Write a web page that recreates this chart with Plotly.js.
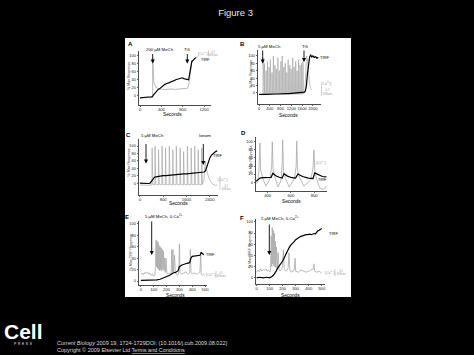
<!DOCTYPE html>
<html><head><meta charset="utf-8">
<script src="https://cdn.plot.ly/plotly-3.0.1.min.js"></script>
<style>html,body{margin:0;padding:0;background:#000;}#chart{width:474px;height:355px;}</style>
</head><body><div id="chart"></div>
<script>
// ---------- Panel A ----------
const aTirfSec = [0,50,100,150,200,230,250,280,310,340,370,400,430,460,490,520,550,580,610,640,670,700,730,760,790,820,850,880,910,930,950,970,990,1010,1030,1050];
const aTirf    = [-5,-4,-4,-3,-3,-2,2,7,12,16,18,22,25,28,30,31,33,35,36,38,40,41,42,44,45,43,42,40,40,55,78,86,88,92,94,95];
const aCaSec   = [0,50,100,150,200,235,238,242,248,256,266,280,300,330,370,420,480,540,600,660,720,780,840,890,910,930,950,970,990,1010,1040,1070,1100];
const aCa      = [-5,-4,-5,-4,-5,-4,95,70,50,38,30,25,21,19,17,16,16,17,17,16,17,18,18,19,25,50,75,84,88,90,93,96,100];
// ---------- Panel B ----------
const bTirfSec = [0,100,200,300,400,500,600,700,800,900,1000,1100,1200,1300,1400,1500,1600,1680,1720,1760,1800,1840,1880,1920,1960,2000,2050,2100,2150,2200];
const bTirf    = [-4,-5,-4,-4,-3,-4,-3,-3,-2,-3,-2,-2,-1,-2,-1,0,1,2,5,20,55,85,98,102,97,100,96,98,94,96];
const bCaSec   = [0,60,120,142,150,168,192,200,218,252,260,278,302,310,328,362,370,388,412,420,438,472,480,498,522,530,548,582,590,608,632,640,658,692,700,718,742,750,768,802,810,828,852,860,878,912,920,938,962,970,988,1022,1030,1048,1072,1080,1098,1132,1140,1158,1182,1190,1208,1242,1250,1268,1292,1300,1318,1352,1360,1378,1402,1410,1428,1462,1470,1488,1512,1520,1538,1572,1580,1598,1622,1630,1648,1700,1740,1760,1790,1820,1850,1880,1920,1960];
const bCa      = [-5,-4,-5,-4,95,-2,-4,80,-2,-4,60,-2,-4,85,-2,-4,70,-2,-4,90,-2,-4,55,-2,-4,100,-2,-4,75,-2,-4,65,-2,-4,95,-2,-4,60,-2,-4,85,-2,-4,100,-2,-4,70,-2,-4,80,-2,-4,55,-2,-4,90,-2,-4,75,-2,-4,65,-2,-4,95,-2,-4,70,-2,-4,85,-2,-4,60,-2,-4,90,-2,-4,75,-2,-4,80,-2,-4,85,-2,0,60,100,95,70,40,22,12,8];
// ---------- Panel C ----------
const cTirfSec = [0,100,200,300,350,400,450,500,550,600,700,800,900,1000,1100,1200,1300,1400,1500,1600,1700,1800,1900,2000,2100,2200,2250,2300,2350,2400,2450,2500,2550,2600,2650];
const cTirf    = [0,-1,0,-1,0,5,12,16,17,18,19,20,20,21,22,22,23,24,25,25,26,27,28,29,30,30,33,45,58,68,75,80,82,85,87];
const cCaSec   = [0,100,200,300,380,412,420,445,512,520,545,632,640,665,752,760,785,872,880,905,1002,1010,1035,1122,1130,1155,1242,1250,1275,1372,1380,1405,1492,1500,1525,1622,1630,1655,1752,1760,1785,1872,1880,1905,1992,2000,2025,2112,2120,2145,2200,2240,2270,2320,2400,2500,2600,2660];
const cCa      = [-5,-6,-5,-6,-5,-5,95,-3,-5,100,-3,-5,90,-3,-5,100,-3,-5,95,-3,-5,100,-3,-5,90,-3,-5,100,-3,-5,95,-3,-5,85,-3,-5,100,-3,-5,95,-3,-5,100,-3,-5,90,-3,-5,95,-3,10,60,45,25,8,-3,-6,-5];
// ---------- Panel D ----------
const dTirfSec = [300,320,334,360,400,430,445,470,500,525,540,570,610,640,660,700,750,790,805,840,870,905];
const dTirf    = [2,6,10,11,11,12,22,16,12,10,21,15,11,10,20,14,10,9,23,17,14,13];
const dCaSec   = [300,315,325,334,340,355,385,420,435,440,447,460,490,515,525,529,536,550,585,630,645,650,657,670,710,770,790,798,806,820,850,880,905];
const dCa      = [-3,0,30,97,30,12,-10,8,40,100,30,15,-12,5,45,105,30,12,-12,8,40,102,30,15,-10,5,35,80,25,8,-16,-18,-10];
// ---------- Panel E ----------
const eTirfSec = [0,25,50,75,100,125,150,175,200,225,250,270,290,300,320,340,360,380,390,400,420,440,460,470,480,490];
const eTirf    = [1,1,2,1,2,2,3,5,8,10,14,15,18,25,28,30,31,32,40,43,44,44,45,50,47,46];
const eCaSec   = [0,10,20,30,40,50,60,70,80,90,100,108,112,118,122,126,130,134,138,142,146,150,154,158,162,167,172,176,180,185,190,196,202,210,220,230,236,240,245,250,255,262,268,275,285,295,300,305,315,330,350,370,380,385,390,400,420,440,460,466,470,478,488,498];
const eCa      = [12,14,11,15,13,16,12,14,10,12,8,10,20,72,25,70,22,68,20,62,18,60,20,58,18,55,20,52,18,40,15,40,15,12,14,12,16,55,15,55,14,45,16,12,10,14,65,15,12,14,16,12,14,55,15,12,14,12,16,50,12,10,12,10];
// ---------- Panel F ----------
const fTirfSec = [0,25,50,75,100,110,120,130,140,150,160,170,180,190,200,210,220,230,240,250,260,270,280,290,300,310,320,330,340,350,360,370,380,390,400,410,420,430,440,450,460,470,480,490,500];
const fTirf    = [0,1,0,1,0,1,3,5,8,12,17,20,23,28,30,35,40,47,52,54,58,60,62,65,68,70,71,73,74,75,76,76,77,77,78,78,77,78,79,78,82,84,85,87,88];
const fCaSec   = [0,10,20,30,40,50,60,70,80,90,100,106,112,116,120,124,128,132,136,140,144,148,152,158,165,172,180,190,198,205,212,222,235,242,248,255,265,280,290,295,300,320,340,360,380,400,420,435,440,446,460,480,500];
const fCa      = [10,14,11,16,12,15,13,16,12,14,10,12,75,20,90,25,85,22,80,20,65,18,55,15,45,14,12,15,20,50,15,12,14,18,45,14,10,12,15,35,12,10,14,12,10,12,14,16,25,12,10,12,8];

// ---------- tick labels ----------
const yTicks = [0,20,40,60,80,100];
const aXTicks = [0,400,800,1200];
const bXTicks = [0,400,800,1200,1600,2000];
const cXTicks = [0,800,1600,2400];
const dXTicks = [400,600,800];
const efXTicks = [0,100,200,300,400,500];

const W = 474, H = 355;
const fx = p => p / W, fy = p => 1 - p / H;
const F = 'Liberation Sans, Arial, sans-serif';
const GREY = '#a8a8a8';

function xa(l, r, range, ticks, anchor) {
  return {domain:[fx(l), fx(r)], range:range, anchor:anchor, tickvals:ticks, tickangle:0, ticklabelstandoff:-1,
    ticks:'outside', ticklen:1.5, tickwidth:0.6, tickcolor:'#000', showline:true, linecolor:'#000', linewidth:0.7,
    showgrid:false, zeroline:false, tickfont:{size:4.2, color:'#222', family:F}, fixedrange:true, automargin:false};
}
function ya(t, b, range, anchor) {
  return {domain:[fy(b), fy(t)], range:range, anchor:anchor, tickvals:yTicks, tickangle:0,
    ticks:'outside', ticklen:1.5, tickwidth:0.6, tickcolor:'#000', showline:true, linecolor:'#000', linewidth:0.7,
    showgrid:false, zeroline:false, tickfont:{size:4, color:'#222', family:F}, fixedrange:true, automargin:false};
}
function grey(x, y, xr, yr, w) { return {x:x, y:y, xaxis:xr, yaxis:yr, type:'scatter', mode:'lines', line:{color:GREY, width:w||0.8}, hoverinfo:'skip'}; }
function black(x, y, xr, yr) { return {x:x, y:y, xaxis:xr, yaxis:yr, type:'scatter', mode:'lines', line:{color:'#000', width:1.2}, hoverinfo:'skip'}; }

const data = [
  grey(aCaSec, aCa, 'x', 'y'), black(aTirfSec, aTirf, 'x', 'y'),
  grey(bCaSec, bCa, 'x2', 'y2', 0.7), black(bTirfSec, bTirf, 'x2', 'y2'),
  grey(cCaSec, cCa, 'x3', 'y3', 0.7), black(cTirfSec, cTirf, 'x3', 'y3'),
  grey(dCaSec, dCa, 'x4', 'y4'), black(dTirfSec, dTirf, 'x4', 'y4'),
  grey(eCaSec, eCa, 'x5', 'y5'), black(eTirfSec, eTirf, 'x5', 'y5'),
  grey(fCaSec, fCa, 'x6', 'y6'), black(fTirfSec, fTirf, 'x6', 'y6')
];

function txt(x, y, t, size, opts) {
  return Object.assign({xref:'paper', yref:'paper', x:fx(x), y:fy(y), text:t, showarrow:false,
    xanchor:'center', yanchor:'middle', font:{size:size, color:'#000', family:F}}, opts || {});
}
function arrow(x, yTail, yTip) {
  return {xref:'paper', yref:'paper', x:fx(x), y:fy(yTip), ax:0, ay:-(yTip - yTail), text:'', showarrow:true,
    arrowhead:2, arrowsize:0.9, arrowwidth:0.9, arrowcolor:'#000'};
}
function ytitle(x, y, t) { return txt(x, y, t, 3.6, {textangle:-90, font:{size:3.6, color:'#333', family:F}}); }
const CA = '[Ca<sup>2+</sup>]<sub>i</sub>';
const RATIO = '0.1<br>Δ Ratio';
const g = (s) => ({size:s, color:'#999', family:F});

const annotations = [
  // panel letters
  txt(130, 44, '<b>A</b>', 6), txt(242, 44, '<b>B</b>', 6), txt(128.5, 135, '<b>C</b>', 6),
  txt(243.5, 133.5, '<b>D</b>', 6), txt(127, 216.5, '<b>E</b>', 6), txt(241.5, 217.5, '<b>F</b>', 6),
  // y titles
  ytitle(129, 76, '% Max Response'), ytitle(251, 74, '% Max Response'), ytitle(128.5, 163, '% Max Response'),
  ytitle(250.5, 160, '% Max Response'), ytitle(130.5, 252, '% Max TIRF Response'), ytitle(250, 250, '% Max TIRF Response'),
  // x titles
  txt(172, 114, 'Seconds', 4.8), txt(288, 115, 'Seconds', 4.8), txt(178, 203, 'Seconds', 4.8),
  txt(291, 201.5, 'Seconds', 4.8), txt(175, 295.5, 'Seconds', 4.8), txt(290, 295.5, 'Seconds', 4.8),
  // stimulus labels + arrows
  txt(160, 49.5, '200 μM MeCh', 4.3), arrow(152.7, 52.5, 63.5),
  txt(187.5, 49.5, 'TG', 4.3), arrow(187.3, 52.5, 63.5),
  txt(269, 46, '5 μM MeCh', 4.3), arrow(262.7, 49, 63.5),
  txt(305, 46, 'TG', 4.3), arrow(304, 49, 62),
  txt(152, 136, '5 μM MeCh', 4.3), arrow(146, 142.5, 163.5),
  txt(204.5, 136, 'Ionom', 4.3), arrow(203.3, 142.5, 165),
  txt(164, 215.5, '5 μM MeCh, 0-Ca<sup>2+</sup>', 4.3), arrow(151.7, 220, 255),
  txt(280, 218.5, '5 μM MeCh, 0-Ca<sup>2+</sup>', 4.3), arrow(269.3, 223, 255),
  // trace labels
  txt(205.5, 59.5, 'TIRF', 3.8), txt(203, 53, CA, 3.6, {font:g(3.6)}), txt(213.5, 53.5, RATIO, 2.6, {font:g(2.6)}),
  txt(324, 57.5, 'TIRF', 4), txt(326, 83, CA, 3.8, {font:g(3.8)}), txt(327, 92, RATIO, 2.8, {font:g(2.8)}),
  txt(217.5, 155, 'TIRF', 4), txt(223, 179, CA, 3.6, {font:g(3.6)}), txt(226, 187, RATIO, 2.6, {font:g(2.6)}),
  txt(320.5, 162, CA, 3.6, {font:g(3.6)}), txt(322.5, 180, 'TIRF', 3.8),
  txt(210, 255, 'TIRF', 3.8), txt(210.5, 274.5, CA, 3.6, {font:g(3.6)}), txt(221.5, 274.5, RATIO, 2.6, {font:g(2.6)}),
  txt(333.5, 233, 'TIRF', 4), txt(329.5, 272, CA, 3.6, {font:g(3.6)}), txt(341, 272, RATIO, 2.6, {font:g(2.6)}),
  // footer
  txt(23, 331, '<b>Cell</b>', 21, {font:{size:21, color:'#fff', family:F}}),
  txt(23, 343.5, 'P\u00a0\u00a0R\u00a0\u00a0E\u00a0\u00a0S\u00a0\u00a0S', 3.2, {font:{size:3.2, color:'#fff', family:F}}),
  txt(55, 342.5, '<i>Current Biology</i> 2009 19, 1724-1729DOI: (10.1016/j.cub.2009.08.022)', 5.5,
      {xanchor:'left', font:{size:5.5, color:'#ddd', family:F}}),
  txt(55, 349.5, 'Copyright © 2009 Elsevier Ltd <u>Terms and Conditions</u>', 5.5,
      {xanchor:'left', font:{size:5.5, color:'#ddd', family:F}})
];

const br = (x, y0, y1, c) => ({type:'line', xref:'paper', yref:'paper', x0:fx(x), x1:fx(x), y0:fy(y0), y1:fy(y1), line:{color:c||'#999', width:0.5}});
const shapes = [
  {type:'rect', xref:'paper', yref:'paper', x0:fx(125), x1:fx(351), y0:fy(297), y1:fy(38), fillcolor:'#fff', line:{width:0}, layer:'below'},
  br(208.5, 50.5, 56.5), br(321.5, 86, 96), br(220, 176, 190), br(216, 271, 278), br(335, 269, 276)
];

const layout = {
  width:W, height:H, margin:{l:0, r:0, t:0, b:0, pad:0},
  paper_bgcolor:'#000', plot_bgcolor:'rgba(0,0,0,0)', showlegend:false,
  font:{family:F, color:'#000'},
  title:{text:'Figure 3', x:0.497, xanchor:'center', y:fy(12.7), yanchor:'middle', yref:'container',
         font:{size:9.5, color:'#e6e6e6', family:F}},
  xaxis:  xa(139, 211, [-20, 1330], aXTicks, 'y'),
  yaxis:  ya(51, 105, [-23, 112], 'x'),
  xaxis2: xa(258, 321, [-40, 2300], bXTicks, 'y2'),
  yaxis2: ya(50, 104, [-30, 116], 'x2'),
  xaxis3: xa(139, 218, [-30, 2680], cXTicks, 'y3'),
  yaxis3: ya(139, 195, [-32, 119], 'x3'),
  xaxis4: xa(256, 327, [300, 910], dXTicks, 'y4'),
  yaxis4: ya(137, 191, [-22, 112], 'x4'),
  xaxis5: xa(139, 207, [-15, 515], efXTicks, 'y5'),
  yaxis5: ya(221, 285, [-7, 105], 'x5'),
  xaxis6: xa(256, 325, [-5, 525], efXTicks, 'y6'),
  yaxis6: ya(219, 284, [-11, 105], 'x6'),
  annotations:annotations, shapes:shapes
};

Plotly.newPlot('chart', data, layout, {staticPlot:true, displayModeBar:false});
</script></body></html>
